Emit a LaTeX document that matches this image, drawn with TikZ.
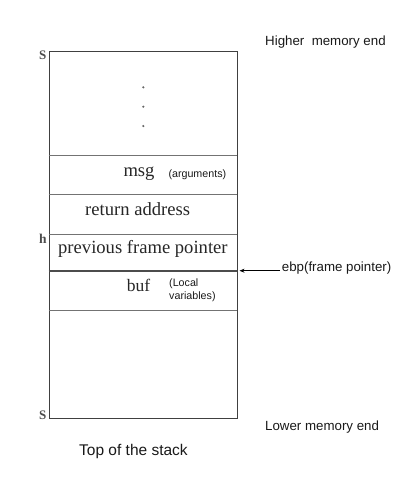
\documentclass[tikz,border=0pt]{standalone}
\usepackage{fontspec}
\setmainfont{Liberation Serif}
\newfontfamily\arialf{Liberation Sans}
\usetikzlibrary{arrows.meta}
\begin{document}
\begin{tikzpicture}[x=1pt,y=-1pt,
  cell/.style={anchor=base west,inner sep=0pt,font=\fontsize{18.6}{20}\selectfont,text=black!85},
  note/.style={anchor=base west,inner sep=0pt,font=\arialf\fontsize{10.7}{12.8}\selectfont,text=black!90},
  lab/.style={anchor=base west,inner sep=0pt,font=\arialf\fontsize{13.3}{15}\selectfont,text=black!90},
  sidelbl/.style={anchor=base west,inner sep=0pt,text=black!70},
  sep/.style={draw=black!55,line width=0.8pt},
  dotmark/.style={fill=black!60},
]
\useasboundingbox (0,0) rectangle (411,480);
% stack frame
\node (stack) [draw=black!75,line width=0.9pt,minimum width=188.3pt,minimum height=366.5pt,inner sep=0pt,anchor=north west] at (48.7,51) {};
\draw[sep] (48.7,155.5) -- (237,155.5);
\draw[sep] (48.7,194.5) -- (237,194.5);
\draw[sep] (48.7,234) -- (237,234);
\draw[draw=black!70,line width=1.8pt] (48.7,270.8) -- (237,270.8);
\draw[sep] (48.7,310.7) -- (237,310.7);
% dots
\fill[dotmark] (143.3,87.3) circle (1.2pt);
\fill[dotmark] (143.3,106.7) circle (1.2pt);
\fill[dotmark] (143.3,126) circle (1.2pt);
% side letters
\node[sidelbl,font=\bfseries\fontsize{13}{14}\selectfont] (s1) at (39,59.5) {S};
\node[sidelbl,font=\bfseries\fontsize{13.5}{14}\selectfont] (h1) at (38.8,243) {h};
\node[sidelbl,font=\bfseries\fontsize{13}{14}\selectfont] (s2) at (39,419) {S};
% cells
\node[cell] (msg) at (123.3,176.7) {msg};
\node[note] (args) at (168.3,177.3) {(arguments)};
\node[cell] (ret) at (85,215.7) {return address};
\node[cell] (prev) at (58,253.3) {previous frame pointer};
\node[cell,font=\fontsize{17.5}{19}\selectfont] (buf) at (126.7,291.7) {buf};
\node[note,align=left,anchor=north west] (loc) at (169,278.5) {(Local\\variables)};
% labels
\node[lab] (hi) at (265,45) {Higher\ \ memory end};
\node[lab] (ebp) at (281.7,271.7) {ebp(frame pointer)};
\node[lab] (lo) at (265,430) {Lower memory end};
\node[lab,font=\arialf\fontsize{15.5}{17}\selectfont] (top) at (79,455) {Top of the stack};
% arrow
\coordinate (ptr) at (239.5,270.7);
\draw[-{Stealth[length=5pt,width=4pt]},line width=0.8pt] ([xshift=-1.5pt]ebp.west |- ptr) -- (ptr);
\end{tikzpicture}
\end{document}
